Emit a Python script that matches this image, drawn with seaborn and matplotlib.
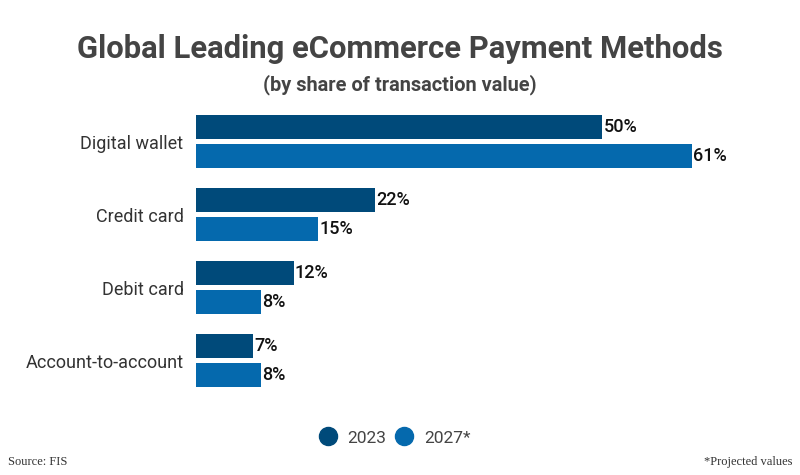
import pandas as pd
import seaborn as sns
import matplotlib.pyplot as plt
from matplotlib.lines import Line2D

# share of ecommerce transaction value, by payment method
methods = ['Digital wallet', 'Credit card', 'Debit card', 'Account-to-account']
share_2023 = [50, 22, 12, 7]
share_2027 = [61, 15, 8, 8]
years = ['2023', '2027*']
colors = ['#004a7a', '#0569ad']

df = pd.DataFrame({
    'method': methods * 2,
    'share': share_2023 + share_2027,
    'year': [years[0]] * len(methods) + [years[1]] * len(methods),
})

sns.set_theme(style='white')
plt.rcParams['font.family'] = ['Roboto', 'DejaVu Sans']

fig = plt.figure(figsize=(8, 4.75), dpi=100)
ax = fig.add_axes([0.245, 0.1642, 0.711, 0.6147])

sns.barplot(data=df, y='method', x='share', hue='year', orient='h',
            palette=colors, saturation=1, width=0.8, gap=0.2,
            linewidth=0, legend=False, ax=ax)

for cont in ax.containers:
    ax.bar_label(cont, labels=[f'{v:.0f}%' for v in cont.datavalues],
                 padding=1, fontsize=13, fontweight='medium', color='#111111')

ax.set_xlim(0, 70)
ax.set_ylim(3.5, -0.5)
ax.set_xlabel('')
ax.set_ylabel('')
ax.set_xticks([])
ax.tick_params(axis='y', length=0, pad=9, labelsize=13, labelcolor='#333333')
sns.despine(ax=ax, left=True, bottom=True)

fig.text(0.5, 0.897, 'Global Leading eCommerce Payment Methods', ha='center',
         va='center', fontsize=22.3, fontweight='bold', color='#444444')
fig.text(0.5, 0.821, '(by share of transaction value)', ha='center',
         va='center', fontsize=14.4, fontweight='bold', color='#444444')

handles = [Line2D([], [], marker='o', linestyle='', markersize=13,
                  markerfacecolor=c, markeredgecolor=c) for c in colors]
fig.legend(handles, years, loc='center', bbox_to_anchor=(0.49, 0.078),
           ncol=2, frameon=False, fontsize=12.5, handletextpad=0.35,
           handlelength=1.6, columnspacing=0.2, labelcolor='#444444')

fig.text(0.01, 0.027, 'Source: FIS', fontsize=9, family='Liberation Serif',
         color='#333333', va='center')
fig.text(0.99, 0.027, '*Projected values', fontsize=9, family='Liberation Serif',
         color='#333333', va='center', ha='right')

fig.savefig('out.png', dpi=100)
